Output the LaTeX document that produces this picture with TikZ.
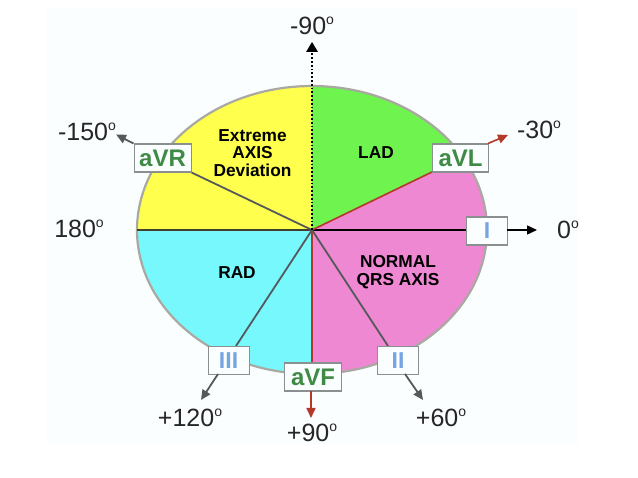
\documentclass[tikz,border=0pt]{standalone}
\usepackage{fontspec}
\setmainfont{Liberation Sans}
\usetikzlibrary{arrows.meta}
\definecolor{bgc}{HTML}{FBFEFF}
\definecolor{yel}{HTML}{FFFF4D}
\definecolor{grn}{HTML}{6FF34F}
\definecolor{pnk}{HTML}{EE88D2}
\definecolor{cyn}{HTML}{77F8FC}
\definecolor{rim}{HTML}{A9A9A2}
\definecolor{lead}{HTML}{55595C}
\definecolor{redl}{HTML}{B5382A}
\definecolor{grt}{HTML}{3F8A45}
\definecolor{blt}{HTML}{76A5E2}
\definecolor{boxe}{HTML}{8A8F90}
\newcommand{\dg}{\raisebox{0.4em}{\fontsize{14}{14}\selectfont o}}
\tikzset{
  x=1pt,y=-1pt,
  leadbox/.style={draw=boxe,line width=1.1pt,fill=bgc,inner sep=0pt,anchor=north west,minimum height=28pt},
  gtext/.style={font=\fontsize{24}{24}\selectfont\bfseries,text=grt},
  btext/.style={font=\fontsize{23}{23}\selectfont\bfseries,text=blt},
  angle/.style={font=\fontsize{25}{25}\selectfont,text=black!85,inner sep=0pt},
  zone/.style={font=\fontsize{17.3}{17.5}\selectfont\bfseries,align=center,inner sep=0pt,text=black},
  tip/.style={-{Triangle[length=10pt,width=9pt]}},
}
\begin{document}
\begin{tikzpicture}
\useasboundingbox (0,0) rectangle (638,478);
\fill[white] (0,0) rectangle (638,478);
\fill[bgc] (47,8) rectangle (578,445);
\coordinate (c) at (312,230);
\coordinate (tip90) at (312,48);
\begin{scope}
\clip (312,230) ellipse [x radius=175,y radius=144];
\fill[yel] (312,230) rectangle (130,80);
\fill[grn] (312,230) -- (312,80) -- (500,80) -- (500,139.5) -- cycle;
\fill[pnk] (312,230) -- (500,139.5) -- (500,380) -- (312,380) -- cycle;
\fill[cyn] (312,230) rectangle (130,380);
\end{scope}
\draw[rim,line width=2.2pt] (312,230) ellipse [x radius=175,y radius=144];
% spokes
\coordinate (w) at (137,230);
\coordinate (iiitop) at (236,346);
\coordinate (iitop) at (388,346);
\coordinate (avfop) at (312,362);
\coordinate (iiilow) at (218,374);
\coordinate (iilow) at (405,374);
\coordinate (avflow) at (311,391);
\coordinate (avrs) at (190.5,172);
\coordinate (avln) at (432,172);
\coordinate (ie) at (466,230);
\coordinate (iw) at (507,230);
\coordinate (avre) at (133.5,143.5);
\coordinate (avlw) at (488,143.5);
\draw[black!70!olive,line width=1.8pt] (w) -- (c);
\draw[black,line width=1.5pt] (c) -- (ie);
\draw[redl,line width=1.6pt] (c) -- (avln);
\draw[redl,line width=1.6pt] (c) -- (avfop);
\draw[lead,line width=1.8pt] (c) -- (avrs);
\draw[lead,line width=1.8pt] (c) -- (iiitop);
\draw[lead,line width=1.8pt] (c) -- (iitop);
\draw[black,line width=1.8pt,dotted] (c) -- (tip90);
% boxes
\node[leadbox,gtext,minimum width=57pt] (avr) at (133.5,143.5) {aVR};
\node[leadbox,gtext,minimum width=56pt] (avl) at (432,143.5) {aVL};
\node[leadbox,btext,minimum width=41pt] (i) at (466,216.5) {I};
\node[leadbox,btext,minimum width=41pt] (iii) at (207.5,346) {III};
\node[leadbox,btext,minimum width=41pt] (ii) at (377,346) {II};
\node[leadbox,gtext,minimum width=57pt] (avf) at (284,362.5) {aVF};
% outer arrows
\coordinate (e150) at (116,134.5);
\coordinate (e30) at (508,135);
\coordinate (e0) at (537,230);
\coordinate (e120) at (201,400);
\coordinate (e90) at (311,418);
\coordinate (e60) at (423,400);
\draw[tip,lead,line width=1.8pt] (avre) -- (e150);
\draw[tip,redl,line width=1.6pt] (avlw) -- (e30);
\draw[tip,black,line width=1.5pt] (iw) -- (e0);
\draw[tip,lead,line width=1.8pt] (iiilow) -- (e120);
\draw[tip,redl,line width=1.6pt] (avflow) -- (e90);
\draw[tip,lead,line width=1.8pt] (iilow) -- (e60);
\fill[black] (312,42) -- (306,52) -- (318,52) -- cycle;
% zone labels
\node[zone] (z1) at (252.5,153) {Extreme\\AXIS\\Deviation};
\node[zone] (z2) at (376,153) {LAD};
\node[zone] (z3) at (398,272) {NORMAL\\QRS AXIS};
\node[zone] (z4) at (237,273) {RAD};
% angles
\node[angle] (a1) at (312,26) {-90\dg};
\node[angle] (a2) at (87,132) {-150\dg};
\node[angle] (a3) at (539,130) {-30\dg};
\node[angle] (a4) at (79,229) {180\dg};
\node[angle] (a5) at (568,230) {0\dg};
\node[angle] (a6) at (190,418) {+120\dg};
\node[angle] (a7) at (312,433) {+90\dg};
\node[angle] (a8) at (441,418) {+60\dg};
\end{tikzpicture}
\end{document}
